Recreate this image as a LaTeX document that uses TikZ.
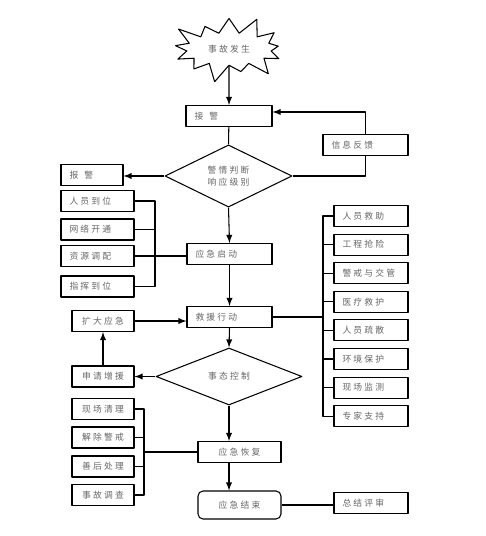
\documentclass[tikz,border=0pt]{standalone}
\usepackage{fontspec}
\newfontfamily\cjk[LetterSpace=25]{Noto Sans CJK SC}
\usetikzlibrary{shapes.geometric,shapes.symbols}
\tikzset{
  blk/.style={draw, rectangle, line width=0.6pt, inner xsep=0.17cm, inner ysep=0pt,
    minimum height=0.42cm, text width=#1, align=left},
  mid/.style={align=center},
  dia/.style={draw, diamond, line width=0.6pt, inner sep=0pt, align=center},
}
\begin{document}
\begin{tikzpicture}[x=0.02cm, y=-0.02cm, line width=0.6pt, line join=round, >=latex,
    font=\cjk\fontsize{5pt}{7pt}\selectfont, text=black!60]
	\useasboundingbox (0,0) rectangle (485,536);
	% main column
	\node[draw, starburst, starburst points=13, starburst point height=0.4cm,
	      minimum width=2.5cm, minimum height=1.45cm, inner sep=0pt, line width=0.6pt] (start) at (229,49) {事故发生};
	\node[blk=1.38cm] (jiejing) at (229,116) {接\hspace{0.7em}警};
	\node[blk=1.36cm] (xinxi) at (365.5,145) {信息反馈};
	\node[dia, minimum width=2.54cm, minimum height=1.12cm] (judge) at (228.5,176) {警情判断\\响应级别};
	\node[blk=0.9cm] (baojing) at (92,175) {报\hspace{0.7em}警};
	\node[blk=1.36cm] (qidong) at (229.5,254) {应急启动};
	\node[blk=1.36cm] (jiuyuan) at (229.5,317) {救援行动};
	\node[dia, minimum width=2.92cm, minimum height=1.14cm] (control) at (229,376.5) {事态控制};
	\node[blk=1.32cm, mid] (huifu) at (239.5,452) {应急恢复};
	\node[blk=1.32cm, mid, minimum height=0.56cm, rounded corners=0.1cm] (jieshu) at (239.5,505) {应急结束};
	\node[blk=1.14cm] (zongjie) at (371,503) {总结评审};
	% left side
	\node[blk=1.12cm] (renyuan) at (97.5,201) {人员到位};
	\node[blk=1.12cm] (wangluo) at (97.5,229.5) {网络开通};
	\node[blk=1.12cm] (ziyuan) at (97.5,256) {资源调配};
	\node[blk=1.12cm] (zhihui) at (97.5,286.5) {指挥到位};
	\node[blk=0.9cm, mid] (kuoda) at (103,321) {扩大应急};
	\node[blk=0.9cm, mid] (shenqing) at (103,376.5) {申请增援};
	\node[blk=0.9cm, mid] (qingli) at (103,409) {现场清理};
	\node[blk=0.9cm, mid] (jiechu) at (103,437.5) {解除警戒};
	\node[blk=0.9cm, mid] (shanhou) at (103,466.5) {善后处理};
	\node[blk=0.9cm, mid] (diaocha) at (103,495) {事故调查};
	% right side
	\node[blk=1.14cm] (r1) at (371,216) {人员救助};
	\node[blk=1.14cm] (r2) at (371,244.6) {工程抢险};
	\node[blk=1.14cm] (r3) at (371,273.2) {警戒与交管};
	\node[blk=1.14cm] (r4) at (371,301.8) {医疗救护};
	\node[blk=1.14cm] (r5) at (371,330.4) {人员疏散};
	\node[blk=1.14cm] (r6) at (371,359) {环境保护};
	\node[blk=1.14cm] (r7) at (371,387.6) {现场监测};
	\node[blk=1.14cm] (r8) at (371,416.2) {专家支持};
	\coordinate (lb) at (155,0);
	\coordinate (rb) at (323,0);
	\coordinate (db) at (144,0);
	% arrows
	\draw[->] (start.south) -- (jiejing.north);
	\draw (jiejing) -- (judge.north);
	\draw[->] (xinxi.north) |- ([yshift=0.08cm]jiejing.east);
	\draw (judge.east) -| (xinxi.south);
	\draw[->] (judge.west) -- (judge.west -| baojing.east);
	\draw[->] (judge.south) -- (qidong.north);
	\draw[->] (qidong.south) -- (jiuyuan.north);
	\draw[->] (jiuyuan.south) -- (control.north);
	\draw[->] (control.west) -- (control.west -| shenqing.east);
	\draw[->] (shenqing.north) -- (kuoda.south);
	\draw[->] (kuoda.east) -- (kuoda.east -| jiuyuan.west);
	\draw[->] (control.south) -- (control.south |- huifu.north);
	\draw[->] (huifu.south -| control.south) -- (jieshu.north -| control.south);
	\draw (jieshu.east) -- (jieshu.east -| zongjie.west);
	% brackets
	\draw (renyuan.east) -- (renyuan.east -| lb) |- (zhihui.east);
	\draw (wangluo.east) -- (wangluo.east -| lb);
	\draw (ziyuan.east) -- (ziyuan.east -| qidong.west);
	\draw (r1.west) -- (r1.west -| rb) |- (r8.west);
	\draw (r2.west) -- (r2.west -| rb);
	\draw (r3.west) -- (r3.west -| rb);
	\draw (r4.west) -- (r4.west -| rb);
	\draw (r5.west) -- (r5.west -| rb);
	\draw (r6.west) -- (r6.west -| rb);
	\draw (r7.west) -- (r7.west -| rb);
	\draw (jiuyuan.east) -- (jiuyuan.east -| rb);
	\draw (qingli.east) -- (qingli.east -| db) |- (diaocha.east);
	\draw (jiechu.east) -- (jiechu.east -| db);
	\draw (shanhou.east) -- (shanhou.east -| db);
	\draw (huifu.west) -- (huifu.west -| db);
\end{tikzpicture}
\end{document}
